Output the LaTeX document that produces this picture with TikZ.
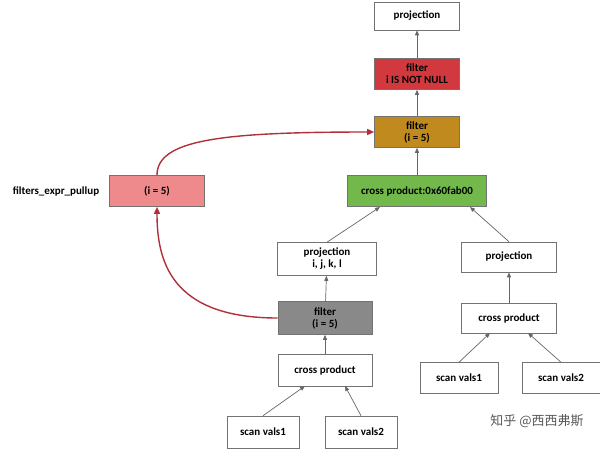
\documentclass[tikz,border=0pt]{standalone}
\usepackage{fontspec}
\setmainfont{Carlito}
\newfontfamily\cjk{Noto Sans CJK SC}
\usetikzlibrary{arrows.meta}
\definecolor{cred}{HTML}{D2393E}
\definecolor{cgold}{HTML}{C08A1E}
\definecolor{cgreen}{HTML}{72B84A}
\definecolor{cpink}{HTML}{EE8A8C}
\definecolor{cgray}{HTML}{898989}
\definecolor{curve}{HTML}{B0303A}
\begin{document}
\begin{tikzpicture}[x=1pt,y=-1pt,
  box/.style={draw=black!55,line width=0.6pt,minimum width=#1,minimum height=31pt,inner sep=1pt,align=center,font=\bfseries\fontsize{11}{12}\selectfont},
  box/.default=95pt,
  arr/.style={-{Triangle[length=5pt,width=4pt]},draw=black!60,line width=0.7pt},
  rarr/.style={-{Triangle[length=7pt,width=6pt]},draw=curve,line width=1.4pt}]
\useasboundingbox (0,0) rectangle (600,448);
\node[box=85pt,minimum height=28pt,fill=white] (p0) at (417,16) {projection};
\node[box=85pt,fill=cred] (f1) at (417,74) {filter\\i IS NOT NULL};
\node[box=85pt,fill=cgold] (f2) at (417,132) {filter\\(i = 5)};
\node[box=139pt,fill=cgreen] (cp) at (417,191) {cross product:0x60fab00};
\node[box=95pt,fill=cpink] (pk) at (157,191) {(i = 5)};
\node[font=\bfseries\fontsize{11}{12}\selectfont] (lbl) at (56,191) {filters\_expr\_pullup};
\node[box=99pt,fill=white,minimum height=33pt] (pl) at (327,259) {projection\\i, j, k, l};
\node[box=95pt,fill=white,minimum height=30pt] (pr) at (509,257) {projection};
\node[box=94pt,fill=cgray,minimum height=33pt] (fg) at (325,318) {filter\\(i = 5)};
\node[box=95pt,fill=white,minimum height=30pt] (cr) at (509,318) {cross product};
\node[box=94pt,fill=white,minimum height=32pt] (cl) at (325,370) {cross product};
\node[box=72pt,fill=white,minimum height=32pt] (s1) at (263,432) {scan vals1};
\node[box=72pt,fill=white,minimum height=32pt] (s2) at (361,432) {scan vals2};
\node[box=78pt,fill=white,minimum height=31pt] (s3) at (459,378) {scan vals1};
\node[box=78pt,fill=white,minimum height=31pt] (s4) at (561,378) {scan vals2};
\draw[arr] (f1) -- (p0);
\draw[arr] (f2) -- (f1);
\draw[arr] (cp) -- (f2);
\draw[arr] (pl.north) -- (380,207);
\draw[arr] (pr.north) -- (470,207);
\draw[arr] (fg) -- (pl);
\draw[arr] (cl) -- (fg);
\draw[arr] (cr) -- (pr);
\draw[arr] (s1.north) -- (305,386);
\draw[arr] (s2.north) -- (345,386);
\draw[arr] (s3.north) -- (490,333);
\draw[arr] (s4.north) -- (528,333);
\draw[rarr] (fg.west) .. controls (170,318) and (157,260) .. (pk.south);
\draw[rarr] (pk.north) .. controls (157,140) and (220,132) .. (f2.west);
\node[font=\cjk\fontsize{13}{14}\selectfont,text=black!65] (wm) at (537,421) {知乎 @西西弗斯};
\end{tikzpicture}
\end{document}
